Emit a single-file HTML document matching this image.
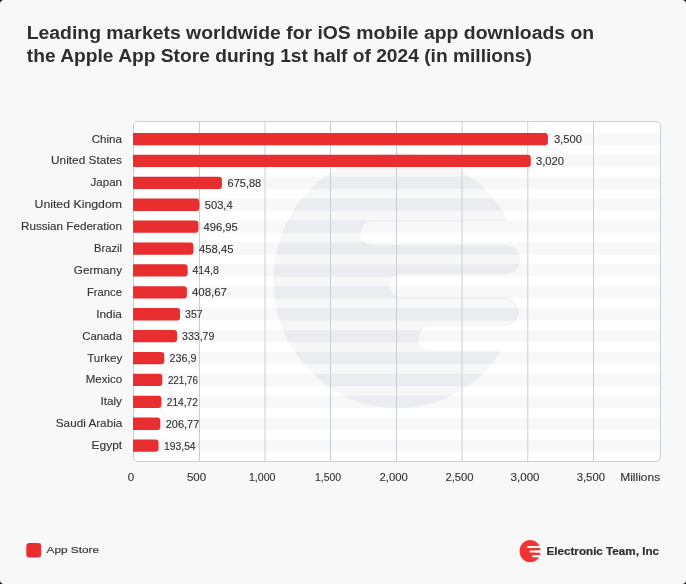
<!DOCTYPE html><html><head><meta charset="utf-8"><title>Leading markets worldwide for iOS mobile app downloads</title><style>
html,body{margin:0;padding:0;background:#000;width:686px;height:584px;overflow:hidden}
.card{position:absolute;left:0;top:0;width:686px;height:584px;background:#f8f8f8;border-radius:4px;overflow:hidden}
svg{position:absolute;left:0;top:0;will-change:transform}
text{font-family:"Liberation Sans",sans-serif}
</style></head><body><div class="card">
<svg width="686" height="584" viewBox="0 0 686 584">
<defs><mask id="wm" maskUnits="userSpaceOnUse" x="0" y="0" width="686" height="584">
<ellipse cx="397.7" cy="280.2" rx="124.4" ry="128.0" fill="#fff"/>
<rect x="460" y="221.4" width="300" height="128.8" fill="#000"/>
<rect x="300" y="245.0" width="220.4" height="28.9" rx="14.45" fill="#fff"/>
<rect x="300" y="297.0" width="218.9" height="29.6" rx="14.8" fill="#fff"/>
<rect x="360.5" y="221.4" width="300" height="23.6" rx="11.8" fill="#000"/>
<rect x="389.6" y="273.9" width="300" height="23.1" rx="11.55" fill="#000"/>
<rect x="418.7" y="326.6" width="300" height="23.6" rx="11.8" fill="#000"/>
</mask>
<clipPath id="pc"><rect x="133.5" y="121.5" width="527" height="340" rx="4.5"/></clipPath>
</defs>
<rect x="133.5" y="121.5" width="527" height="340" rx="4.5" fill="#fff"/>
<g clip-path="url(#pc)">
<rect x="134" y="132.90" width="526" height="12.3" fill="#f8f8f8"/>
<rect x="134" y="154.80" width="526" height="12.3" fill="#f8f8f8"/>
<rect x="134" y="176.70" width="526" height="12.3" fill="#f8f8f8"/>
<rect x="134" y="198.60" width="526" height="12.3" fill="#f8f8f8"/>
<rect x="134" y="220.50" width="526" height="12.3" fill="#f8f8f8"/>
<rect x="134" y="242.40" width="526" height="12.3" fill="#f8f8f8"/>
<rect x="134" y="264.30" width="526" height="12.3" fill="#f8f8f8"/>
<rect x="134" y="286.20" width="526" height="12.3" fill="#f8f8f8"/>
<rect x="134" y="308.10" width="526" height="12.3" fill="#f8f8f8"/>
<rect x="134" y="330.00" width="526" height="12.3" fill="#f8f8f8"/>
<rect x="134" y="351.90" width="526" height="12.3" fill="#f8f8f8"/>
<rect x="134" y="373.80" width="526" height="12.3" fill="#f8f8f8"/>
<rect x="134" y="395.70" width="526" height="12.3" fill="#f8f8f8"/>
<rect x="134" y="417.60" width="526" height="12.3" fill="#f8f8f8"/>
<rect x="134" y="439.50" width="526" height="12.3" fill="#f8f8f8"/>
<g mask="url(#wm)">
<rect x="134" y="122" width="526" height="339" fill="#f7f7f8"/>
<rect x="134" y="132.90" width="526" height="12.3" fill="#ebecf0"/>
<rect x="134" y="154.80" width="526" height="12.3" fill="#ebecf0"/>
<rect x="134" y="176.70" width="526" height="12.3" fill="#ebecf0"/>
<rect x="134" y="198.60" width="526" height="12.3" fill="#ebecf0"/>
<rect x="134" y="220.50" width="526" height="12.3" fill="#ebecf0"/>
<rect x="134" y="242.40" width="526" height="12.3" fill="#ebecf0"/>
<rect x="134" y="264.30" width="526" height="12.3" fill="#ebecf0"/>
<rect x="134" y="286.20" width="526" height="12.3" fill="#ebecf0"/>
<rect x="134" y="308.10" width="526" height="12.3" fill="#ebecf0"/>
<rect x="134" y="330.00" width="526" height="12.3" fill="#ebecf0"/>
<rect x="134" y="351.90" width="526" height="12.3" fill="#ebecf0"/>
<rect x="134" y="373.80" width="526" height="12.3" fill="#ebecf0"/>
<rect x="134" y="395.70" width="526" height="12.3" fill="#ebecf0"/>
<rect x="134" y="417.60" width="526" height="12.3" fill="#ebecf0"/>
<rect x="134" y="439.50" width="526" height="12.3" fill="#ebecf0"/>
</g>
</g>
<line x1="199.50" y1="122" x2="199.50" y2="461" stroke="#c8cfd6" stroke-width="1"/>
<line x1="265.00" y1="122" x2="265.00" y2="461" stroke="#c8cfd6" stroke-width="1"/>
<line x1="330.50" y1="122" x2="330.50" y2="461" stroke="#c8cfd6" stroke-width="1"/>
<line x1="396.50" y1="122" x2="396.50" y2="461" stroke="#c8cfd6" stroke-width="1"/>
<line x1="462.00" y1="122" x2="462.00" y2="461" stroke="#c8cfd6" stroke-width="1"/>
<line x1="527.80" y1="122" x2="527.80" y2="461" stroke="#c8cfd6" stroke-width="1"/>
<line x1="593.50" y1="122" x2="593.50" y2="461" stroke="#c8cfd6" stroke-width="1"/>
<rect x="133.5" y="121.5" width="527" height="340" rx="4.5" fill="none" stroke="#c8cfd6" stroke-width="1"/>
<path d="M133.0 132.90H544.90A3 3 0 0 1 547.90 135.90V142.20A3 3 0 0 1 544.90 145.20H133.0Z" fill="#e82e2e"/>
<path d="M133.0 154.80H527.80A3 3 0 0 1 530.80 157.80V164.10A3 3 0 0 1 527.80 167.10H133.0Z" fill="#e82e2e"/>
<path d="M133.0 176.70H218.98A3 3 0 0 1 221.98 179.70V186.00A3 3 0 0 1 218.98 189.00H133.0Z" fill="#e82e2e"/>
<path d="M133.0 198.60H196.31A3 3 0 0 1 199.31 201.60V207.90A3 3 0 0 1 196.31 210.90H133.0Z" fill="#e82e2e"/>
<path d="M133.0 220.50H195.46A3 3 0 0 1 198.46 223.50V229.80A3 3 0 0 1 195.46 232.80H133.0Z" fill="#e82e2e"/>
<path d="M133.0 242.40H190.40A3 3 0 0 1 193.40 245.40V251.70A3 3 0 0 1 190.40 254.70H133.0Z" fill="#e82e2e"/>
<path d="M133.0 264.30H184.67A3 3 0 0 1 187.67 267.30V273.60A3 3 0 0 1 184.67 276.60H133.0Z" fill="#e82e2e"/>
<path d="M133.0 286.20H183.86A3 3 0 0 1 186.86 289.20V295.50A3 3 0 0 1 183.86 298.50H133.0Z" fill="#e82e2e"/>
<path d="M133.0 308.10H177.07A3 3 0 0 1 180.07 311.10V317.40A3 3 0 0 1 177.07 320.40H133.0Z" fill="#e82e2e"/>
<path d="M133.0 330.00H174.02A3 3 0 0 1 177.02 333.00V339.30A3 3 0 0 1 174.02 342.30H133.0Z" fill="#e82e2e"/>
<path d="M133.0 351.90H161.29A3 3 0 0 1 164.29 354.90V361.20A3 3 0 0 1 161.29 364.20H133.0Z" fill="#e82e2e"/>
<path d="M133.0 373.80H159.30A3 3 0 0 1 162.30 376.80V383.10A3 3 0 0 1 159.30 386.10H133.0Z" fill="#e82e2e"/>
<path d="M133.0 395.70H158.37A3 3 0 0 1 161.37 398.70V405.00A3 3 0 0 1 158.37 408.00H133.0Z" fill="#e82e2e"/>
<path d="M133.0 417.60H157.33A3 3 0 0 1 160.33 420.60V426.90A3 3 0 0 1 157.33 429.90H133.0Z" fill="#e82e2e"/>
<path d="M133.0 439.50H155.59A3 3 0 0 1 158.59 442.50V448.80A3 3 0 0 1 155.59 451.80H133.0Z" fill="#e82e2e"/>
<g fill="#333333" font-size="10.5" stroke="#333333" stroke-width="0.12">
<text x="122.00" y="142.55" text-anchor="end" textLength="30.30" lengthAdjust="spacingAndGlyphs">China</text>
<text x="122.00" y="164.45" text-anchor="end" textLength="70.90" lengthAdjust="spacingAndGlyphs">United States</text>
<text x="122.00" y="186.35" text-anchor="end" textLength="31.50" lengthAdjust="spacingAndGlyphs">Japan</text>
<text x="122.00" y="208.25" text-anchor="end" textLength="87.50" lengthAdjust="spacingAndGlyphs">United Kingdom</text>
<text x="122.00" y="230.15" text-anchor="end" textLength="101.00" lengthAdjust="spacingAndGlyphs">Russian Federation</text>
<text x="122.00" y="252.05" text-anchor="end" textLength="28.00" lengthAdjust="spacingAndGlyphs">Brazil</text>
<text x="122.00" y="273.95" text-anchor="end" textLength="48.20" lengthAdjust="spacingAndGlyphs">Germany</text>
<text x="122.00" y="295.85" text-anchor="end" textLength="35.00" lengthAdjust="spacingAndGlyphs">France</text>
<text x="122.00" y="317.75" text-anchor="end" textLength="25.80" lengthAdjust="spacingAndGlyphs">India</text>
<text x="122.00" y="339.65" text-anchor="end" textLength="39.80" lengthAdjust="spacingAndGlyphs">Canada</text>
<text x="122.20" y="361.55" text-anchor="end" textLength="35.00" lengthAdjust="spacingAndGlyphs">Turkey</text>
<text x="122.20" y="383.45" text-anchor="end" textLength="36.50" lengthAdjust="spacingAndGlyphs">Mexico</text>
<text x="122.00" y="405.35" text-anchor="end" textLength="21.60" lengthAdjust="spacingAndGlyphs">Italy</text>
<text x="122.30" y="427.25" text-anchor="end" textLength="66.50" lengthAdjust="spacingAndGlyphs">Saudi Arabia</text>
<text x="122.20" y="449.15" text-anchor="end" textLength="30.60" lengthAdjust="spacingAndGlyphs">Egypt</text>
<text x="553.90" y="143.05" textLength="28.00" lengthAdjust="spacingAndGlyphs">3,500</text>
<text x="536.00" y="164.95" textLength="28.10" lengthAdjust="spacingAndGlyphs">3,020</text>
<text x="227.50" y="186.85" textLength="33.70" lengthAdjust="spacingAndGlyphs">675,88</text>
<text x="204.70" y="208.75" textLength="28.00" lengthAdjust="spacingAndGlyphs">503,4</text>
<text x="203.50" y="230.65" textLength="34.30" lengthAdjust="spacingAndGlyphs">496,95</text>
<text x="199.00" y="252.55" textLength="34.50" lengthAdjust="spacingAndGlyphs">458,45</text>
<text x="192.40" y="274.45" textLength="26.60" lengthAdjust="spacingAndGlyphs">414,8</text>
<text x="191.90" y="296.35" textLength="35.10" lengthAdjust="spacingAndGlyphs">408,67</text>
<text x="185.10" y="318.25" textLength="17.60" lengthAdjust="spacingAndGlyphs">357</text>
<text x="182.00" y="340.15" textLength="32.40" lengthAdjust="spacingAndGlyphs">333,79</text>
<text x="169.40" y="362.05" textLength="27.10" lengthAdjust="spacingAndGlyphs">236,9</text>
<text x="167.90" y="383.95" textLength="30.10" lengthAdjust="spacingAndGlyphs">221,76</text>
<text x="166.80" y="405.85" textLength="31.10" lengthAdjust="spacingAndGlyphs">214,72</text>
<text x="165.70" y="427.75" textLength="33.60" lengthAdjust="spacingAndGlyphs">206,77</text>
<text x="164.10" y="449.65" textLength="31.50" lengthAdjust="spacingAndGlyphs">193,54</text>
</g>
<g fill="#333333" font-size="10.5" stroke="#333333" stroke-width="0.12">
<text x="127.80" y="480.90" textLength="6.40" lengthAdjust="spacingAndGlyphs">0</text>
<text x="186.90" y="480.90" textLength="19.30" lengthAdjust="spacingAndGlyphs">500</text>
<text x="248.90" y="480.90" textLength="26.60" lengthAdjust="spacingAndGlyphs">1,000</text>
<text x="315.00" y="480.90" textLength="26.00" lengthAdjust="spacingAndGlyphs">1,500</text>
<text x="379.60" y="480.90" textLength="28.20" lengthAdjust="spacingAndGlyphs">2,000</text>
<text x="445.50" y="480.90" textLength="28.00" lengthAdjust="spacingAndGlyphs">2,500</text>
<text x="510.60" y="480.90" textLength="28.90" lengthAdjust="spacingAndGlyphs">3,000</text>
<text x="576.70" y="480.90" textLength="28.30" lengthAdjust="spacingAndGlyphs">3,500</text>
<text x="620.20" y="480.90" textLength="40.00" lengthAdjust="spacingAndGlyphs">Millions</text>
</g>
<g fill="#2e2e2e" font-size="18" font-weight="bold">
<text x="26.70" y="38.50" textLength="567.40" lengthAdjust="spacingAndGlyphs">Leading markets worldwide for iOS mobile app downloads on</text>
<text x="26.80" y="61.80" textLength="505.10" lengthAdjust="spacingAndGlyphs">the Apple App Store during 1st half of 2024 (in millions)</text>
</g>
<rect x="26.3" y="543" width="14.8" height="14.6" rx="3" fill="#e82e2e"/>
<text x="46.60" y="553.2" font-size="9.9" fill="#333333" stroke="#333333" stroke-width="0.15" textLength="52.50" lengthAdjust="spacingAndGlyphs">App Store</text>
<text x="546.50" y="554.7" font-size="10.4" font-weight="bold" fill="#2e2e2e" stroke="#2e2e2e" stroke-width="0.2" textLength="112.50" lengthAdjust="spacingAndGlyphs">Electronic Team, Inc</text>
<defs><mask id="lm" maskUnits="userSpaceOnUse" x="500" y="530" width="60" height="40">
<g transform="translate(519.6,540.0) scale(0.08468,0.08696) translate(-273.3,-152.2)">
<ellipse cx="397.7" cy="280.2" rx="124.4" ry="128.0" fill="#fff"/>
<rect x="460" y="221.4" width="300" height="128.8" fill="#000"/>
<rect x="300" y="245.0" width="220.4" height="28.9" rx="14.45" fill="#fff"/>
<rect x="300" y="297.0" width="218.9" height="29.6" rx="14.8" fill="#fff"/>
<rect x="360.5" y="221.4" width="300" height="23.6" rx="11.8" fill="#000"/>
<rect x="389.6" y="273.9" width="300" height="23.1" rx="11.55" fill="#000"/>
<rect x="418.7" y="326.6" width="300" height="23.6" rx="11.8" fill="#000"/>
</g></mask></defs>
<rect x="500" y="530" width="60" height="40" fill="#ef3433" mask="url(#lm)"/>
</svg></div></body></html>
